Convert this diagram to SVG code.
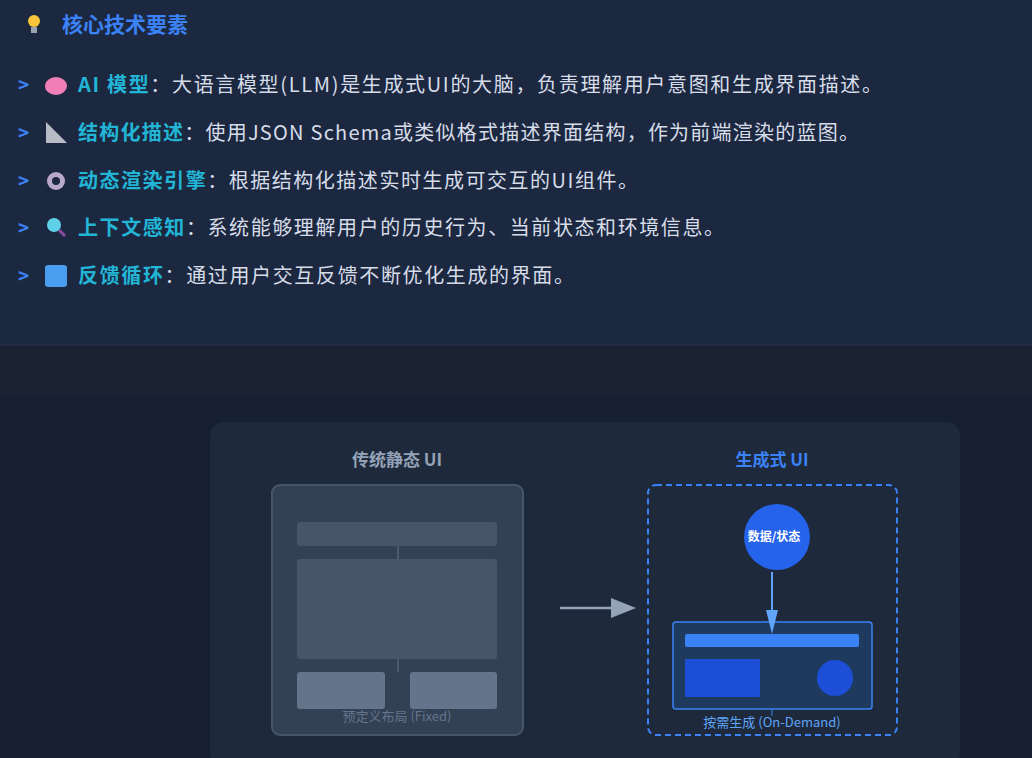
<svg xmlns="http://www.w3.org/2000/svg" width="1032" height="758" viewBox="0 0 1032 758">
<defs>
<style>
text{font-family:"Noto Sans CJK SC","Noto Sans",sans-serif}
.gt{fill:#3b82f6;font-size:19px;font-weight:bold}
.lb{fill:#22b5d6;font-size:20px;font-weight:bold}
.tx{fill:#d6dde8;font-size:20px}
.gray{fill:#475569}
.small{fill:#64748b}
</style>
<marker id="ah" markerWidth="10" markerHeight="16" refX="9" refY="8" orient="auto" markerUnits="userSpaceOnUse"><path d="M0,0 L10,16 L0,16 Z" fill="#60a5fa"/></marker>
</defs>
<rect width="1032" height="758" fill="#172033"/>
<rect width="1032" height="345" fill="#1c2840"/>
<rect y="345" width="1032" height="52" fill="#1a2232"/>
<line x1="0" y1="345" x2="1032" y2="345" stroke="#26334d"/>
<g id="title">
<circle cx="34" cy="21" r="6" fill="#f8c53a"/><rect x="31" y="27" width="6" height="6" fill="#9aa3b0"/>
<text x="62" y="32" font-size="21" font-weight="bold" fill="#3b82f6">核心技术要素</text>
</g>
<g id="items">
<text x="18" y="92" class="gt">&gt;</text>
<ellipse cx="56" cy="86" rx="11" ry="9" fill="#f07fb8"/>
<text x="78" y="92" textLength="804" lengthAdjust="spacing"><tspan class="lb">AI 模型</tspan><tspan class="tx">：大语言模型(LLM)是生成式UI的大脑，负责理解用户意图和生成界面描述。</tspan></text>
<text x="18" y="140" class="gt">&gt;</text>
<path d="M46,122 L67,143 L46,143 Z" fill="#b7bcc6"/>
<text x="78" y="140" textLength="781" lengthAdjust="spacing"><tspan class="lb">结构化描述</tspan><tspan class="tx">：使用JSON Schema或类似格式描述界面结构，作为前端渲染的蓝图。</tspan></text>
<text x="18" y="188" class="gt">&gt;</text>
<circle cx="56" cy="181" r="9" fill="#b8a9c9"/><circle cx="56" cy="181" r="4" fill="#1c2840"/>
<text x="78" y="188" textLength="560" lengthAdjust="spacing"><tspan class="lb">动态渲染引擎</tspan><tspan class="tx">：根据结构化描述实时生成可交互的UI组件。</tspan></text>
<text x="18" y="235" class="gt">&gt;</text>
<circle cx="54" cy="225" r="7" fill="#5ed0e8"/><line x1="59" y1="230" x2="65" y2="236" stroke="#8a4fa3" stroke-width="3"/>
<text x="78" y="235" textLength="646" lengthAdjust="spacing"><tspan class="lb">上下文感知</tspan><tspan class="tx">：系统能够理解用户的历史行为、当前状态和环境信息。</tspan></text>
<text x="18" y="283" class="gt">&gt;</text>
<rect x="45" y="265" width="22" height="22" rx="3" fill="#4a9ef0"/>
<text x="78" y="283" textLength="496" lengthAdjust="spacing"><tspan class="lb">反馈循环</tspan><tspan class="tx">：通过用户交互反馈不断优化生成的界面。</tspan></text>
</g>
<g id="card">
<rect x="210" y="422" width="750" height="345" rx="14" fill="#1e293b"/>
</g>
<g id="static">
<text x="397" y="466" text-anchor="middle" font-size="17" font-weight="bold" fill="#94a3b8">传统静态 UI</text>
<rect x="272" y="485" width="251" height="250" rx="8" fill="#334155" stroke="#475569" stroke-width="2"/>
<rect x="297" y="522" width="200" height="24" rx="3" class="gray"/>
<rect x="297" y="559" width="200" height="100" rx="3" class="gray"/>
<rect x="297" y="672" width="88" height="37" rx="3" class="small"/>
<rect x="410" y="672" width="87" height="37" rx="3" class="small"/>
<text x="397" y="721" text-anchor="middle" font-size="13" fill="#64748b">预定义布局 (Fixed)</text>
</g>
<g id="gen">
<text x="772" y="466" text-anchor="middle" font-size="17" font-weight="bold" fill="#3b82f6">生成式 UI</text>
<rect x="648" y="485" width="249" height="250" rx="8" fill="none" stroke="#3b82f6" stroke-width="2" stroke-dasharray="6 4"/>
<ellipse cx="777" cy="537" rx="33" ry="33" fill="#2563eb"/>
<text x="774" y="541" text-anchor="middle" font-size="12" font-weight="bold" fill="#fff">数据/状态</text>
<rect x="673" y="622" width="199" height="87" rx="3" fill="#1e3a5f" stroke="#3b82f6" stroke-width="1.5"/>
<rect x="685" y="634" width="174" height="13" rx="2" fill="#3b82f6"/>
<rect x="685" y="659" width="75" height="38" rx="1" fill="#1d4ed8"/>
<circle cx="835" cy="678" r="18" fill="#1d4ed8"/>
<text x="772" y="727" text-anchor="middle" font-size="13" fill="#60a5fa">按需生成 (On-Demand)</text>
</g>
<g id="connectors">
<line x1="398" y1="546" x2="398" y2="559" stroke="#64748b"/>
<line x1="398" y1="659" x2="398" y2="672" stroke="#64748b"/>
<line x1="560" y1="608" x2="618" y2="608" stroke="#94a3b8" stroke-width="2.5"/>
<path d="M611,598 L636,608 L611,618 Z" fill="#94a3b8"/>
<line x1="772" y1="572" x2="772" y2="612" stroke="#60a5fa" stroke-width="2"/>
<path d="M766,610 L778,610 L772,634 Z" fill="#60a5fa"/>
<line x1="772" y1="709" x2="772" y2="716" stroke="#3b82f6"/>
</g>
</svg>
